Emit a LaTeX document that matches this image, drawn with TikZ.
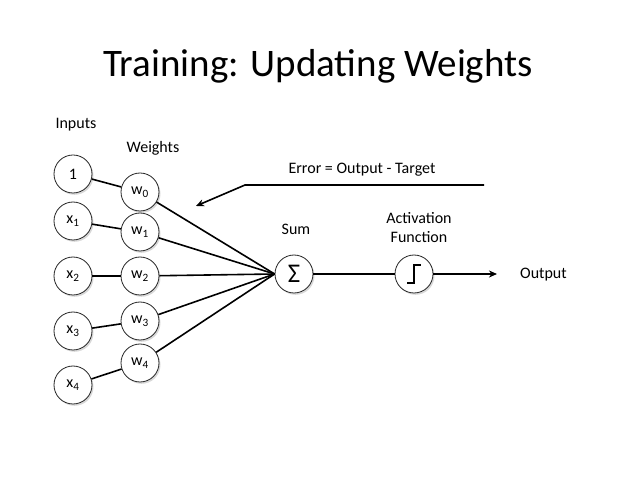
\documentclass[tikz,border=0pt]{standalone}
\usepackage{fontspec}
\setmainfont{Carlito}
\usetikzlibrary{shadows,arrows.meta}
\begin{document}
\begin{tikzpicture}[x=1pt,y=-1pt,
  neuron/.style={circle,draw=black!85,line width=0.8pt,fill=white,minimum size=38pt,inner sep=0pt,
    drop shadow={opacity=0.25,shadow xshift=1.5pt,shadow yshift=-1.8pt,fill=black!60},font=\fontsize{16}{18}\selectfont},
  lbl/.style={font=\fontsize{16}{19}\selectfont,inner sep=0pt,align=center},
  conn/.style={line width=1.6pt,black}]
\useasboundingbox[fill=white] (0,0) rectangle (638,478);
\node[font=\fontsize{39}{43}\selectfont,inner sep=0pt] (title) at (318,66) {Training: Updating Weights};
\node[lbl] (inputs) at (76,125) {Inputs};
\node[lbl] (weights) at (153,148) {Weights};
% inputs
\node[neuron] (i0) at (73,174) {1};
\node[neuron] (i1) at (73,221) {x\textsubscript{1}};
\node[neuron] (i2) at (73,276) {x\textsubscript{2}};
\node[neuron] (i3) at (73,331) {x\textsubscript{3}};
\node[neuron] (i4) at (73,385) {x\textsubscript{4}};
% weights
\node[neuron] (w0) at (140,192) {w\textsubscript{0}};
\node[neuron] (w1) at (140,232) {w\textsubscript{1}};
\node[neuron] (w2) at (140,276) {w\textsubscript{2}};
\node[neuron] (w3) at (140,321) {w\textsubscript{3}};
\node[neuron] (w4) at (140,363) {w\textsubscript{4}};
% sum and activation
\node[neuron,font=\fontsize{27}{28}\selectfont] (sum) at (294,274) {Σ};
\node[neuron] (act) at (414,274) {};
\draw[line width=1.4pt] ([shift={(-7,9)}]act.center) -- ([shift={(0,9)}]act.center) -- ([shift={(0,-9)}]act.center) -- ([shift={(7,-9)}]act.center);
\node[lbl] (sumlbl) at (296,229) {Sum};
\node[lbl] (actlbl) at (419,228) {Activation\\Function};
\node[lbl,anchor=west] (out) at (520,275) {Output};
\coordinate (outend) at (497,274);
% connectors
\foreach \k in {0,...,4}{\draw[conn] (i\k) -- (w\k); \draw[conn] (w\k) -- (sum.west);}
\draw[conn] (sum) -- (act);
\draw[conn,-{Stealth[length=8pt,width=7pt,inset=2.5pt]}] (act) -- (outend);
% error
\node[lbl] (err) at (362,170) {Error = Output - Target};
\coordinate (e1) at (484,185);
\coordinate (e2) at (245,185);
\coordinate (e3) at (196,206);
\draw[conn,-{Stealth[length=8pt,width=7pt,inset=2.5pt]}] (e1) -- (e2) -- (e3);
\end{tikzpicture}
\end{document}
